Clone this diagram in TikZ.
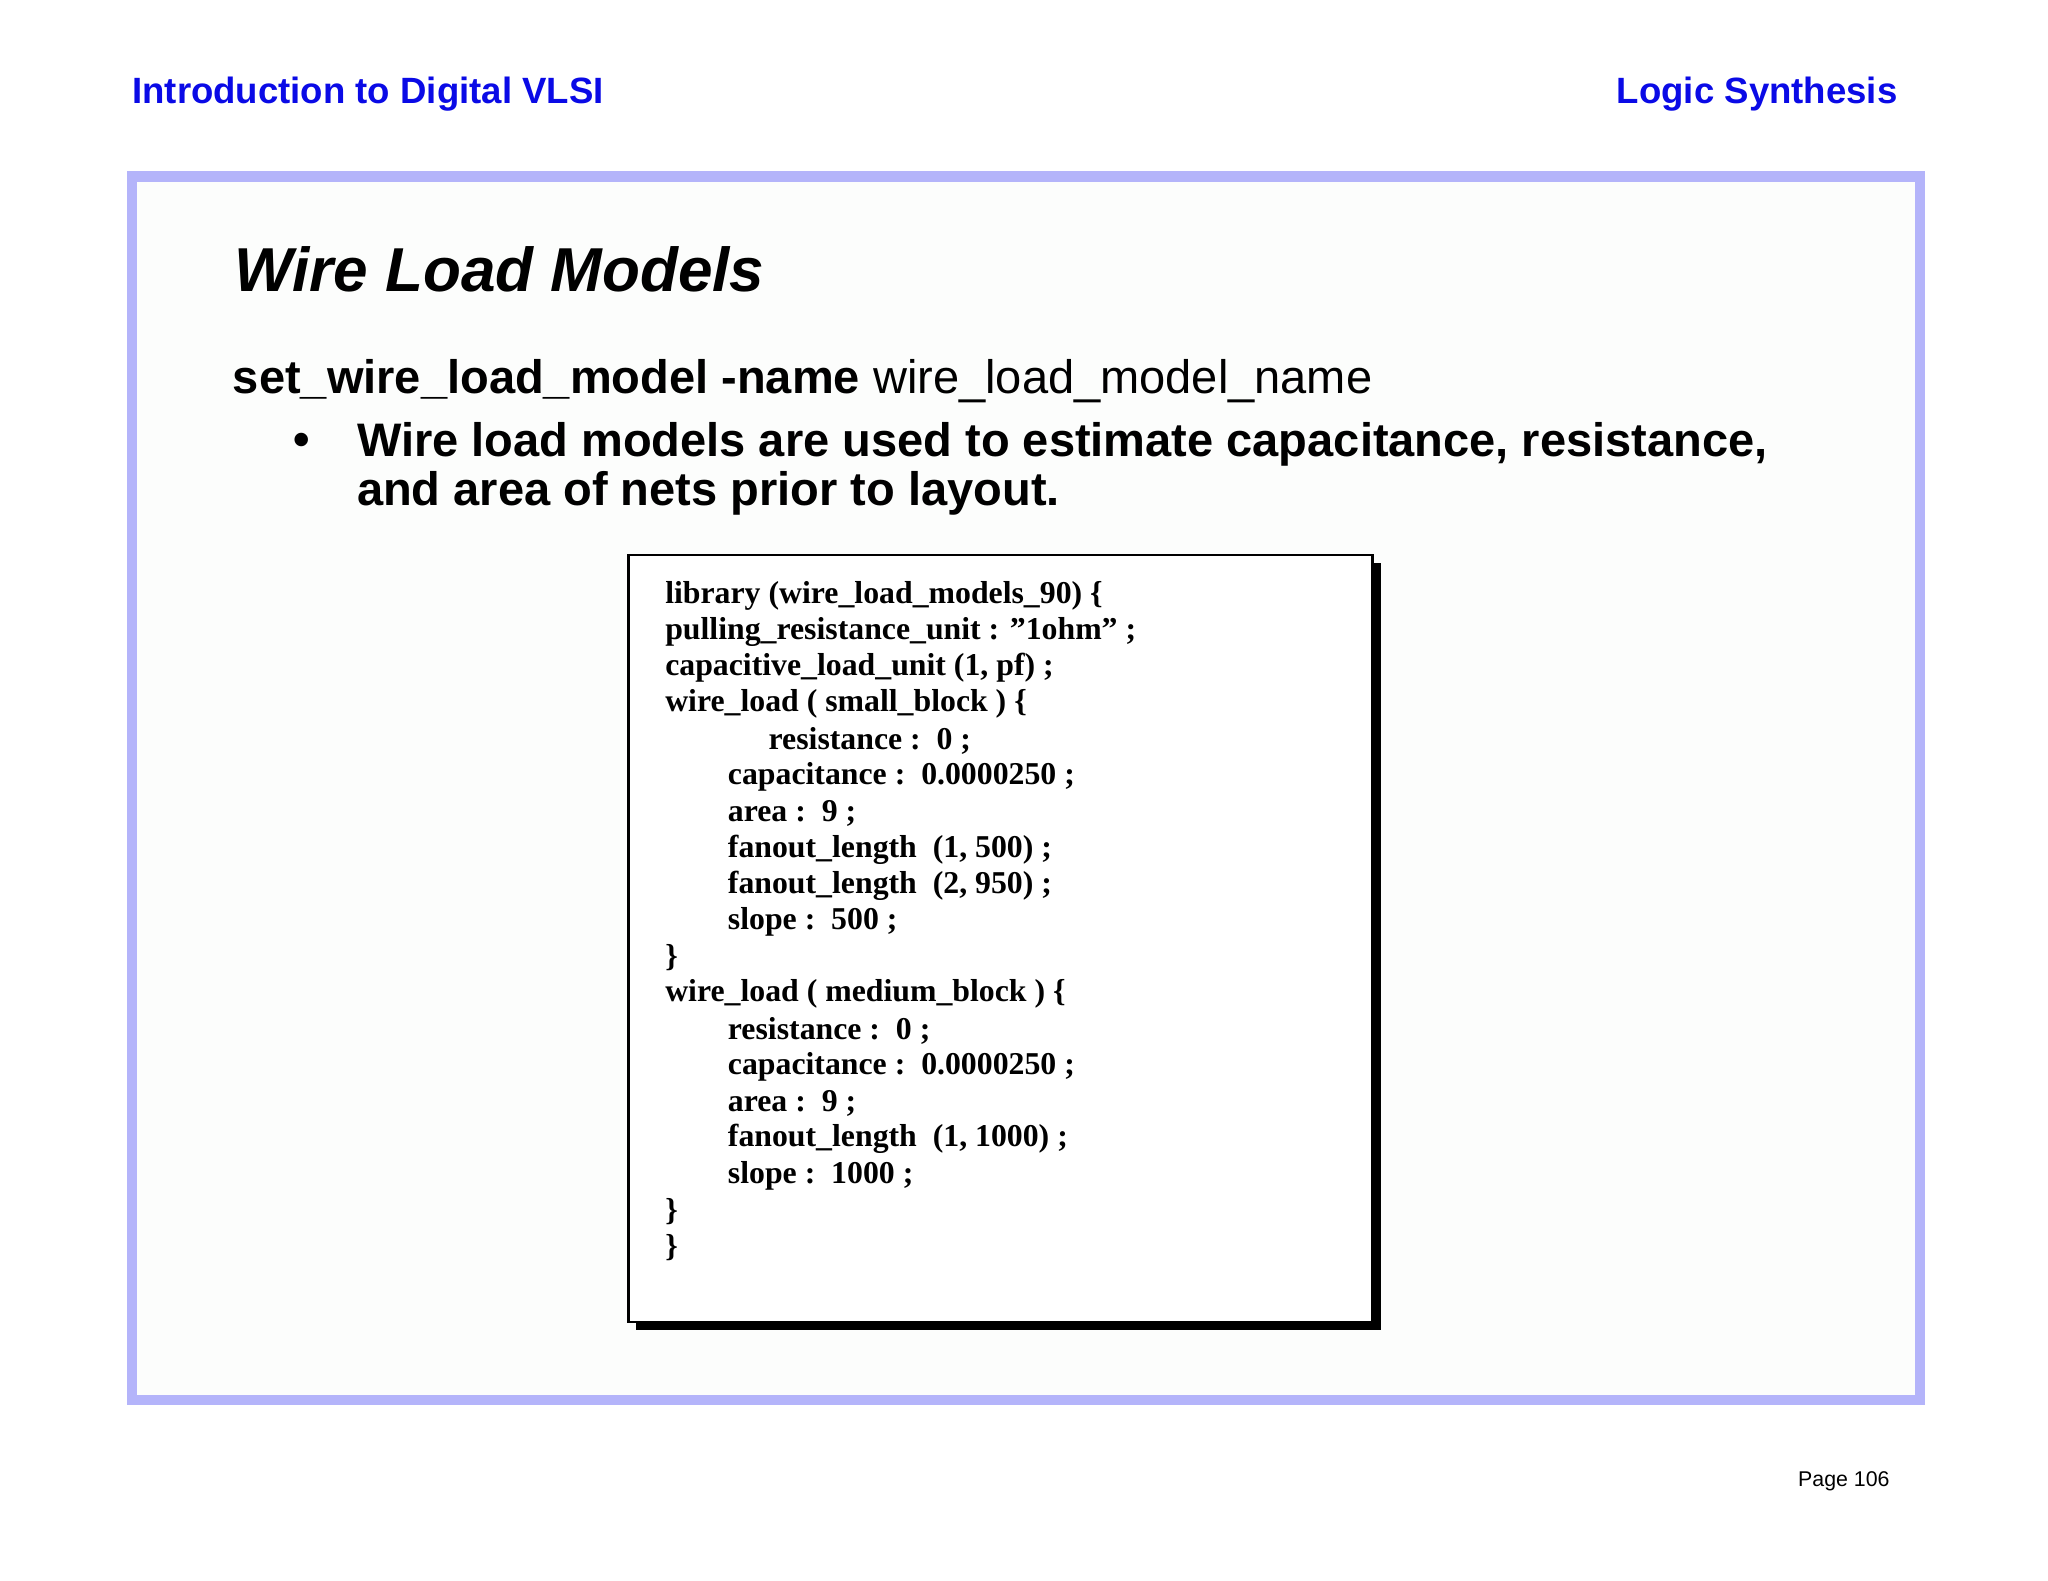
\documentclass[tikz,border=0pt]{standalone}
\usepackage{fontspec}
\setmainfont{Liberation Serif}
\setsansfont{Liberation Sans}
\definecolor{hdr}{RGB}{10,10,230}
\definecolor{frm}{RGB}{180,180,250}
\definecolor{bg}{RGB}{252,253,252}
\begin{document}
\begin{tikzpicture}[x=0.6pt,y=-0.6pt,
  hdrtxt/.style={font=\sffamily\bfseries\fontsize{16.8}{20}\selectfont,text=hdr,inner sep=0},
  codeline/.style={anchor=west,inner sep=0,font=\rmfamily\bfseries\fontsize{14.6}{17}\selectfont}]
\useasboundingbox (0,0) rectangle (1568,1210);
\fill[white] (0,0) rectangle (1568,1210);
\node[hdrtxt,anchor=west] (h1) at (101,72) {Introduction to Digital VLSI};
\node[hdrtxt,anchor=east] (h2) at (1453,72) {Logic Synthesis};
\draw[frm,line width=4.8pt,fill=bg] (101,135) rectangle (1470,1072);
\node[anchor=west,inner sep=0,font=\sffamily\bfseries\itshape\fontsize{28.5}{32}\selectfont] (t) at (179,206) {Wire Load Models};
\node[anchor=west,inner sep=0,font=\sffamily\fontsize{21.6}{26}\selectfont] (s) at (178,292) {\textbf{set\_wire\_load\_model -name} wire\_load\_model\_name};
\node[anchor=west,inner sep=0,font=\sffamily\bfseries\fontsize{21.6}{26}\selectfont] (b) at (224,340) {•};
\node[anchor=west,inner sep=0,font=\sffamily\bfseries\fontsize{21.6}{26}\selectfont] (l1) at (273,340) {Wire load models are used to estimate capacitance, resistance,};
\node[anchor=west,inner sep=0,font=\sffamily\bfseries\fontsize{21.6}{26}\selectfont] (l2) at (273,378) {and area of nets prior to layout.};
\fill[black] (487,431) rectangle (1057,1018);
\draw[black,line width=1.2pt,fill=white] (481,425) rectangle (1051,1012);
\foreach \t [count=\i] in {
 {library (wire\_load\_models\_90) \{},
 {pulling\_resistance\_unit : "1ohm" ;},
 {capacitive\_load\_unit (1, pf) ;},
 {wire\_load ( small\_block ) \{},
 {\hspace*{47.5pt}resistance :\ \ 0 ;},
 {\hspace*{28.8pt}capacitance :\ \ 0.0000250 ;},
 {\hspace*{28.8pt}area :\ \ 9 ;},
 {\hspace*{28.8pt}fanout\_length\ \ (1, 500) ;},
 {\hspace*{28.8pt}fanout\_length\ \ (2, 950) ;},
 {\hspace*{28.8pt}slope :\ \ 500 ;},
 {\}},
 {wire\_load ( medium\_block ) \{},
 {\hspace*{28.8pt}resistance :\ \ 0 ;},
 {\hspace*{28.8pt}capacitance :\ \ 0.0000250 ;},
 {\hspace*{28.8pt}area :\ \ 9 ;},
 {\hspace*{28.8pt}fanout\_length\ \ (1, 1000) ;},
 {\hspace*{28.8pt}slope :\ \ 1000 ;},
 {\}},
 {\}}}
 \node[codeline] (c\i) at (509,{456+27.75*(\i-1)}) {\t};
\node[anchor=east,inner sep=0,font=\sffamily\fontsize{9.8}{12}\selectfont] (pg) at (1447,1134) {Page 106};
\end{tikzpicture}
\end{document}
